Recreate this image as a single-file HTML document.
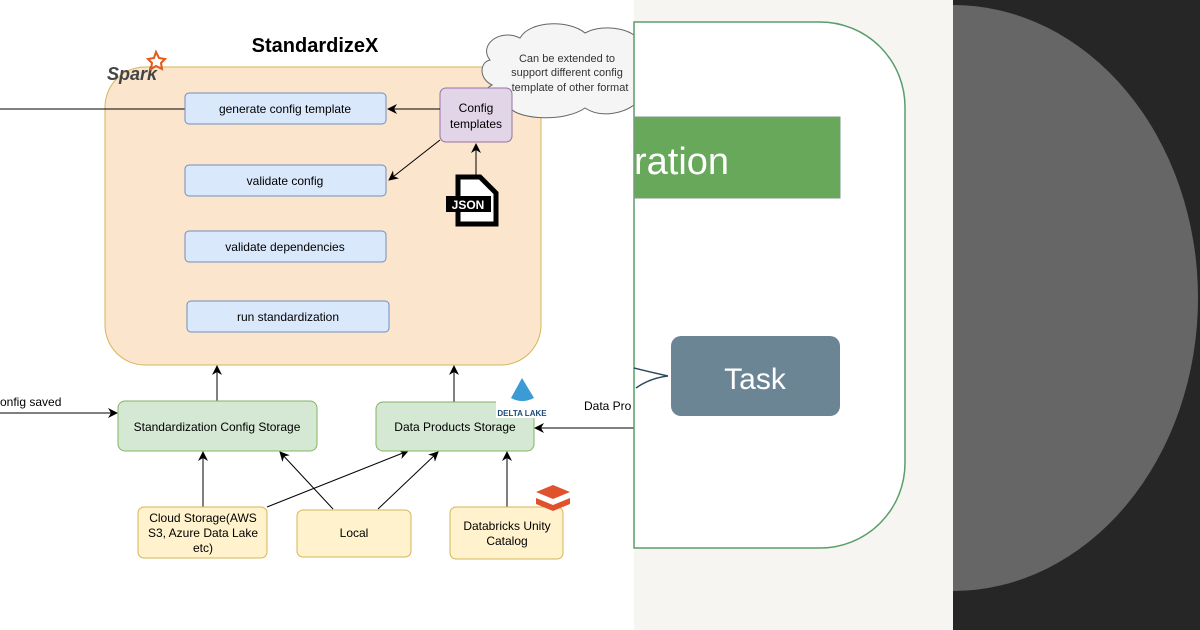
<!DOCTYPE html>
<html><head><meta charset="utf-8"><style>
body{margin:0;width:1200px;height:630px;overflow:hidden;background:#fff;font-family:"Liberation Sans",sans-serif}
svg{display:block}
</style></head><body>
<svg width="1200" height="630" xmlns="http://www.w3.org/2000/svg" font-family="Liberation Sans, sans-serif">
<defs><marker id="a" markerWidth="10" markerHeight="10" refX="9" refY="5" orient="auto" markerUnits="userSpaceOnUse"><path d="M0,0 L10,5 L0,10 L3,5 z" fill="#000"/></marker>
<clipPath id="c"><rect x="953" y="0" width="247" height="630"/></clipPath></defs>
<rect width="634" height="630" fill="#fff"/>
<text x="315" y="52" font-size="20" font-weight="bold" text-anchor="middle">StandardizeX</text>
<rect x="105" y="67" width="436" height="298" rx="40" fill="#fbe5cd" stroke="#d6b656"/>
<text x="107" y="80" font-size="18" font-style="italic" fill="#444" font-weight="bold">Spark</text>
<path d="M156,52 l3,6 6,1 -4,4 1,6 -6,-3 -5,3 1,-6 -4,-4 6,-1z" fill="none" stroke="#e25a1c" stroke-width="2"/>
<line x1="0" y1="109" x2="185" y2="109" stroke="#000"/>
<g fill="#dae8fc" stroke="#6c8ebf">
<rect x="185" y="93" width="201" height="31" rx="4"/>
<rect x="185" y="165" width="201" height="31" rx="4"/>
<rect x="185" y="231" width="201" height="31" rx="4"/>
<rect x="187" y="301" width="202" height="31" rx="4"/></g>
<g font-size="12" text-anchor="middle">
<text x="285" y="113">generate config template</text>
<text x="285" y="185">validate config</text>
<text x="285" y="251">validate dependencies</text>
<text x="288" y="321">run standardization</text></g>
<path d="M490,60 C478,45 500,28 520,38 C530,20 570,20 585,33 C605,22 640,30 640,45 L640,100 C625,115 600,118 585,108 C565,122 520,120 510,108 C485,112 478,92 492,85 C478,78 480,62 490,60z" fill="#f5f5f5" stroke="#666"/>
<g font-size="11" text-anchor="middle" fill="#333"><text x="567" y="62">Can be extended to</text><text x="567" y="76">support different config</text><text x="570" y="91">template of other format</text></g>
<rect x="440" y="88" width="72" height="54" rx="6" fill="#e1d5e7" stroke="#9673a6"/>
<text x="476" y="112" font-size="12" text-anchor="middle">Config</text>
<text x="476" y="128" font-size="12" text-anchor="middle">templates</text>
<path d="M458,177 h22 l16,16 v31 h-38z" fill="#fff" stroke="#000" stroke-width="5"/>
<rect x="446" y="196" width="45" height="16" fill="#000"/>
<text x="468" y="209" font-size="12" font-weight="bold" fill="#fff" text-anchor="middle">JSON</text>
<g stroke="#000" marker-end="url(#a)">
<line x1="440" y1="109" x2="388" y2="109"/>
<line x1="440" y1="140" x2="389" y2="180"/>
<line x1="476" y1="175" x2="476" y2="144"/>
<line x1="217" y1="401" x2="217" y2="366"/>
<line x1="454" y1="402" x2="454" y2="366"/>
<line x1="0" y1="413" x2="117" y2="413"/>
<line x1="634" y1="428" x2="535" y2="428"/>
<line x1="203" y1="507" x2="203" y2="452"/>
<line x1="333" y1="509" x2="280" y2="452"/>
<line x1="267" y1="507" x2="408" y2="451"/>
<line x1="378" y1="509" x2="438" y2="452"/>
<line x1="507" y1="507" x2="507" y2="452"/></g>
<text x="0" y="406" font-size="12">onfig saved</text>
<text x="584" y="410" font-size="12">Data Pro</text>
<g fill="#d5e8d4" stroke="#82b366">
<rect x="118" y="401" width="199" height="50" rx="7"/>
<rect x="376" y="402" width="158" height="49" rx="7"/></g>
<text x="217" y="431" font-size="12" text-anchor="middle">Standardization Config Storage</text>
<text x="455" y="431" font-size="12" text-anchor="middle">Data Products Storage</text>
<rect x="496" y="375" width="52" height="43" fill="#fff"/>
<path d="M522,378 L511,398 Q522,404 534,398z" fill="#3a9bd5"/>
<text x="522" y="416" font-size="8" font-weight="bold" fill="#1e4a7a" text-anchor="middle">DELTA LAKE</text>
<g fill="#fff2cc" stroke="#d6b656">
<rect x="138" y="507" width="129" height="51" rx="6"/>
<rect x="297" y="510" width="114" height="47" rx="6"/>
<rect x="450" y="507" width="113" height="52" rx="6"/></g>
<g font-size="12" text-anchor="middle">
<text x="203" y="522">Cloud Storage(AWS</text><text x="203" y="537">S3, Azure Data Lake</text><text x="203" y="552">etc)</text>
<text x="354" y="537">Local</text>
<text x="507" y="530">Databricks Unity</text><text x="507" y="545">Catalog</text></g>
<path d="M553,485 l17,7 -17,7 -17,-7z M536,498 l17,7 17,-7 v6 l-17,7 -17,-7z" fill="#e0522c"/>
<rect x="634" y="0" width="319" height="630" fill="#f6f5f1"/>
<path d="M634,22 H820 A85,85 0 0 1 905,107 V463 A85,85 0 0 1 820,548 H634z" fill="#fff" stroke="#5a9e6a" stroke-width="1.5"/>
<rect x="634" y="117" width="206" height="81" fill="#67a85a" stroke="#7d9a86"/>
<text x="634" y="174" font-size="38" fill="#fff">ration</text>
<rect x="671" y="336" width="169" height="80" rx="10" fill="#6c8595"/>
<text x="755" y="389" font-size="30" fill="#fff" text-anchor="middle">Task</text>
<path d="M634,368 Q650,372 668,376 M636,388 Q650,378 668,376" fill="none" stroke="#2d4a5c" stroke-width="1.5"/>
<rect x="953" y="0" width="247" height="630" fill="#262626"/>
<ellipse cx="953" cy="298" rx="245" ry="293" fill="#666" clip-path="url(#c)"/>
</svg>
</body></html>
